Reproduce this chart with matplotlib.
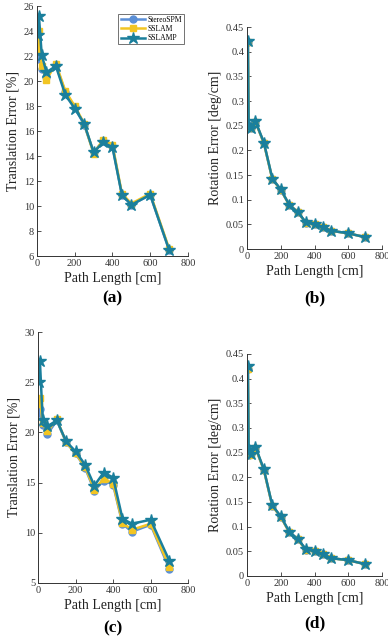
import numpy as np
import matplotlib
matplotlib.use('Agg')
import matplotlib.pyplot as plt

plt.rcParams['font.family'] = ['Liberation Serif', 'DejaVu Serif']
plt.rcParams['mathtext.fontset'] = 'stix'

# Path lengths [cm]
path_len = [5, 10, 25, 50, 100, 150, 200, 250, 300, 350, 400, 450, 500, 600, 700]

# (a) translation error [%]
trans_a_spm = [21.8, 22.0, 21.0, 20.3, 21.3, 19.1, 17.9, 16.5, 14.3, 15.2, 14.8, 10.9, 10.1, 10.9, 6.5]
trans_a_sslam = [22.4, 24.0, 21.2, 20.1, 21.4, 19.2, 18.0, 16.6, 14.2, 15.3, 14.9, 11.0, 10.2, 11.0, 6.6]
trans_a_sslamp = [23.7, 25.2, 22.1, 20.7, 21.2, 18.9, 17.8, 16.6, 14.3, 15.1, 14.7, 10.9, 10.1, 10.9, 6.5]

# (b) rotation error [deg/cm]
rot_b_spm = [0.42, 0.25, 0.245, 0.258, 0.215, 0.142, 0.12, 0.09, 0.075, 0.053, 0.05, 0.045, 0.037, 0.032, 0.024]
rot_b_sslam = [0.42, 0.248, 0.245, 0.258, 0.215, 0.142, 0.12, 0.09, 0.075, 0.053, 0.05, 0.045, 0.037, 0.032, 0.024]
rot_b_sslamp = [0.422, 0.25, 0.246, 0.259, 0.216, 0.143, 0.121, 0.09, 0.075, 0.054, 0.05, 0.045, 0.037, 0.032, 0.024]

# (c) translation error [%]
trans_c_spm = [21.9, 22.3, 20.7, 19.8, 21.2, 19.0, 17.9, 16.5, 14.2, 15.2, 14.8, 10.9, 10.1, 10.8, 6.4]
trans_c_sslam = [22.8, 23.4, 20.9, 20.1, 21.3, 19.0, 17.9, 16.6, 14.3, 15.4, 14.9, 11.0, 10.3, 10.9, 6.6]
trans_c_sslamp = [25.0, 27.1, 21.2, 20.6, 21.2, 19.1, 18.1, 16.8, 14.7, 16.0, 15.5, 11.4, 10.9, 11.3, 7.2]

# (d) rotation error [deg/cm]
rot_d_spm = [0.42, 0.245, 0.247, 0.26, 0.215, 0.142, 0.12, 0.089, 0.074, 0.053, 0.05, 0.044, 0.036, 0.032, 0.024]
rot_d_sslam = [0.42, 0.245, 0.247, 0.26, 0.215, 0.142, 0.12, 0.089, 0.074, 0.053, 0.05, 0.044, 0.036, 0.032, 0.024]
rot_d_sslamp = [0.425, 0.255, 0.248, 0.262, 0.216, 0.143, 0.121, 0.09, 0.075, 0.054, 0.05, 0.044, 0.036, 0.032, 0.024]

names = ['StereoSPM', 'SSLAM', 'SSLAMP']
colors = ['#5b8fd6', '#f2c523', '#1a7f9c']
markers = ['o', 's', '*']
msizes = [5, 5, 9]

fig = plt.figure(figsize=(3.88, 6.37), dpi=100)

def panel(rect, series, ylim, yticks, yfmt, ylabel, tag, tag_y, legend=False):
    ax = fig.add_axes(rect)
    for s, c, m, ms, n in zip(series, colors, markers, msizes, names):
        ax.plot(path_len, s, color=c, marker=m, ms=ms, lw=1.8, label=n,
                markeredgecolor=c)
    ax.set_xlim(0, 800)
    ax.set_ylim(*ylim)
    ax.set_xticks([0, 200, 400, 600, 800])
    ax.set_yticks(yticks)
    ax.set_yticklabels([yfmt(v) for v in yticks])
    for sp in ['top', 'right']:
        ax.spines[sp].set_visible(False)
    for sp in ['left', 'bottom']:
        ax.spines[sp].set_color('#333333')
        ax.spines[sp].set_linewidth(0.7)
    ax.tick_params(direction='in', length=3, width=0.6, labelsize=7.5, colors='#333333', pad=2)
    ax.set_xlabel('Path Length [cm]', fontsize=10, color='#222222', labelpad=3)
    ax.set_ylabel(ylabel, fontsize=10, color='#222222', labelpad=3)
    ax.text(0.5, tag_y, tag, transform=ax.transAxes, ha='center', va='center',
            fontsize=12.5, fontweight='bold')
    if legend:
        lg = ax.legend(loc='upper right', bbox_to_anchor=(1.0, 0.985), fontsize=5.5,
                       frameon=True, fancybox=False, handlelength=3.2,
                       borderpad=0.3, labelspacing=0.15, handletextpad=0.3)
        lg.get_frame().set_edgecolor('#333333')
        lg.get_frame().set_linewidth(0.6)
    return ax

tfmt = lambda v: '%d' % v
rfmt = lambda v: '0' if v == 0 else ('%g' % v)
rticks = [0, 0.05, 0.1, 0.15, 0.2, 0.25, 0.3, 0.35, 0.4, 0.45]

panel([0.0954, 0.598, 0.389, 0.3925], [trans_a_spm, trans_a_sslam, trans_a_sslamp],
      (6, 26), list(range(6, 27, 2)), tfmt, 'Translation Error [%]', '(a)', -0.168, legend=True)
panel([0.6366, 0.609, 0.348, 0.3485], [rot_b_spm, rot_b_sslam, rot_b_sslamp],
      (0, 0.45), rticks, rfmt, 'Rotation Error [deg/cm]', '(b)', -0.22)
panel([0.098, 0.0848, 0.387, 0.394], [trans_c_spm, trans_c_sslam, trans_c_sslamp],
      (5, 30), [5, 10, 15, 20, 25, 30], tfmt, 'Translation Error [%]', '(c)', -0.179)
panel([0.6366, 0.0958, 0.348, 0.3485], [rot_d_spm, rot_d_sslam, rot_d_sslamp],
      (0, 0.45), rticks, rfmt, 'Rotation Error [deg/cm]', '(d)', -0.212)

fig.savefig('out.png', dpi=100)
